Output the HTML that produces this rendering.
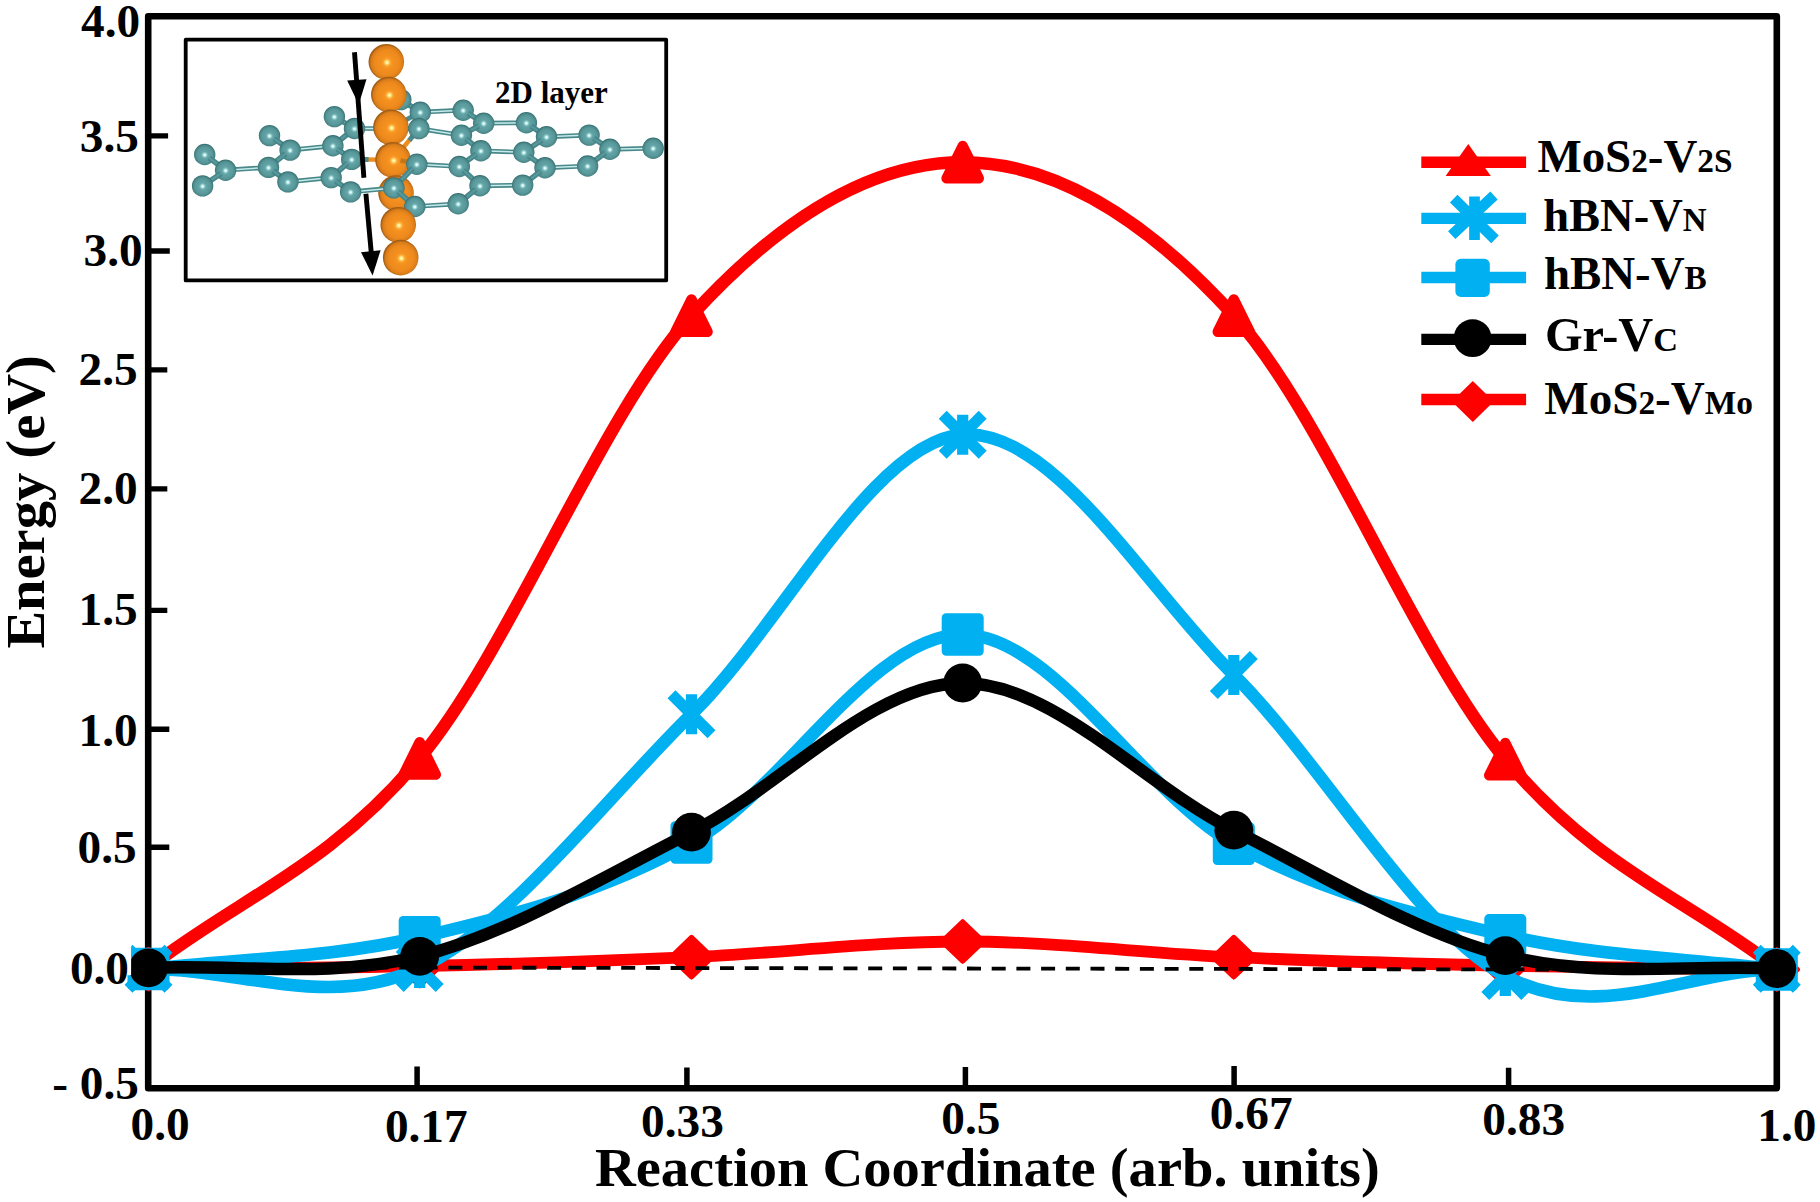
<!DOCTYPE html>
<html lang="en"><head><meta charset="utf-8"><title>Energy vs Reaction Coordinate</title>
<style>html,body{margin:0;padding:0;background:#fff}svg{display:block}text{font-family:'Liberation Serif', 'Times New Roman', serif;font-weight:bold;fill:#000}</style></head><body>
<svg width="1820" height="1202" viewBox="0 0 1820 1202">
<rect width="1820" height="1202" fill="#fff"/>
<defs>
<radialGradient id="gT" cx="0.5" cy="0.52" r="0.5" fx="0.5" fy="0.52"><stop offset="0" stop-color="#f4ffff"/><stop offset="0.09" stop-color="#d4f6f6"/><stop offset="0.22" stop-color="#82c0c1"/><stop offset="0.34" stop-color="#62a3a5"/><stop offset="0.7" stop-color="#5a999b"/><stop offset="0.9" stop-color="#498789"/><stop offset="1" stop-color="#366f71"/></radialGradient>
<radialGradient id="gO" cx="0.52" cy="0.52" r="0.5" fx="0.52" fy="0.52"><stop offset="0" stop-color="#ffffd0"/><stop offset="0.07" stop-color="#ffee90"/><stop offset="0.2" stop-color="#fba22c"/><stop offset="0.32" stop-color="#f4911f"/><stop offset="0.7" stop-color="#ee8a1d"/><stop offset="0.9" stop-color="#d87c1a"/><stop offset="1" stop-color="#a45e14"/></radialGradient>
</defs>
<rect x="148.2" y="16.2" width="1628.6" height="1072.1" fill="none" stroke="#000" stroke-width="6.6" stroke-linejoin="round"/>
<clipPath id="cl"><path d="M131.2 0 H1820 V1202 H0 V975.3 H131.2 Z"/></clipPath>
<g clip-path="url(#cl)">
<path d="M148.5 968C238.9 898.1 329.2 867 419.7 758.3C510.2 649.6 601 414.9 691.5 315.6C782 216.3 872.3 162.2 962.7 162.2C1053.1 162.2 1143.4 216.1 1233.8 315.6C1324.2 415.1 1414.8 650.5 1505.3 759.2C1595.8 867.9 1686.3 898.4 1776.8 968" fill="none" stroke="#fe0000" stroke-width="12.6" stroke-linecap="round" stroke-linejoin="round"/>
<path d="M419.7 742.1 L435.8 774.5 L403.6 774.5 Z" fill="#fe0000" stroke="#fe0000" stroke-width="10.4" stroke-linejoin="round"/>
<path d="M691.5 299.4 L707.6 331.8 L675.4 331.8 Z" fill="#fe0000" stroke="#fe0000" stroke-width="10.4" stroke-linejoin="round"/>
<path d="M962.7 146 L978.8 178.4 L946.6 178.4 Z" fill="#fe0000" stroke="#fe0000" stroke-width="10.4" stroke-linejoin="round"/>
<path d="M1233.8 299.4 L1249.9 331.8 L1217.7 331.8 Z" fill="#fe0000" stroke="#fe0000" stroke-width="10.4" stroke-linejoin="round"/>
<path d="M1505.3 743 L1521.4 775.4 L1489.2 775.4 Z" fill="#fe0000" stroke="#fe0000" stroke-width="10.4" stroke-linejoin="round"/>
<path d="M148.5 969.1C238.9 968.1 329.2 968 419.7 966C510.2 964 601 961.3 691.5 957.2C782 953.1 872.3 941.5 962.7 941.5C1053.1 941.5 1143.4 953.2 1233.8 957.2C1324.2 961.2 1414.8 963.8 1505.3 965.8C1595.8 967.8 1686.3 968.3 1776.8 969.5" fill="none" stroke="#fe0000" stroke-width="11.8" stroke-linecap="round"/>
<path d="M148.5 949.3 L169.2 969.1 L148.5 988.9 L127.8 969.1 Z" fill="#fe0000" stroke="#fe0000" stroke-width="5" stroke-linejoin="round"/>
<path d="M419.7 946.2 L440.4 966 L419.7 985.8 L399 966 Z" fill="#fe0000" stroke="#fe0000" stroke-width="5" stroke-linejoin="round"/>
<path d="M691.5 937.4 L712.2 957.2 L691.5 977 L670.8 957.2 Z" fill="#fe0000" stroke="#fe0000" stroke-width="5" stroke-linejoin="round"/>
<path d="M962.7 921.7 L983.4 941.5 L962.7 961.3 L942 941.5 Z" fill="#fe0000" stroke="#fe0000" stroke-width="5" stroke-linejoin="round"/>
<path d="M1233.8 937.4 L1254.5 957.2 L1233.8 977 L1213.1 957.2 Z" fill="#fe0000" stroke="#fe0000" stroke-width="5" stroke-linejoin="round"/>
<path d="M1505.3 946 L1526 965.8 L1505.3 985.6 L1484.6 965.8 Z" fill="#fe0000" stroke="#fe0000" stroke-width="5" stroke-linejoin="round"/>
<path d="M1776.8 949.7 L1797.5 969.5 L1776.8 989.3 L1756.1 969.5 Z" fill="#fe0000" stroke="#fe0000" stroke-width="5" stroke-linejoin="round"/>
<path d="M148.5 968.8C238.9 968.5 329.2 1010.4 419.7 968C510.2 925.6 601 803.2 691.5 714.3C782 625.4 872.3 441.2 962.7 434.7C1053.1 428.1 1143.4 584.8 1233.8 675C1324.2 765.2 1414.8 927 1505.3 976C1595.8 1025 1686.3 971.2 1776.8 968.8" fill="none" stroke="#00b0f0" stroke-width="12.7" stroke-linecap="round"/>
<path d="M148.5 948.8 V988.8 M128.5 948.8 L168.5 988.8 M168.5 948.8 L128.5 988.8" fill="none" stroke="#00b0f0" stroke-width="11.2"/>
<path d="M419.7 948 V988 M399.7 948 L439.7 988 M439.7 948 L399.7 988" fill="none" stroke="#00b0f0" stroke-width="11.2"/>
<path d="M691.5 694.3 V734.3 M671.5 694.3 L711.5 734.3 M711.5 694.3 L671.5 734.3" fill="none" stroke="#00b0f0" stroke-width="11.2"/>
<path d="M962.7 414.7 V454.7 M942.7 414.7 L982.7 454.7 M982.7 414.7 L942.7 454.7" fill="none" stroke="#00b0f0" stroke-width="11.2"/>
<path d="M1233.8 655 V695 M1213.8 655 L1253.8 695 M1253.8 655 L1213.8 695" fill="none" stroke="#00b0f0" stroke-width="11.2"/>
<path d="M1505.3 956 V996 M1485.3 956 L1525.3 996 M1525.3 956 L1485.3 996" fill="none" stroke="#00b0f0" stroke-width="11.2"/>
<path d="M1776.8 948.8 V988.8 M1756.8 948.8 L1796.8 988.8 M1796.8 948.8 L1756.8 988.8" fill="none" stroke="#00b0f0" stroke-width="11.2"/>
<path d="M148.5 969C238.9 958.4 329.2 958.4 419.7 937.3C510.2 916.2 601 893 691.5 842.5C782 792 872.3 634.3 962.7 634.5C1053.1 634.7 1143.4 793.6 1233.8 843.7C1324.2 893.9 1414.8 914.4 1505.3 935.4C1595.8 956.4 1686.3 958.1 1776.8 969.5" fill="none" stroke="#00b0f0" stroke-width="12.7" stroke-linecap="round"/>
<rect x="127.5" y="947.7" width="42" height="42.6" rx="4.5" fill="#00b0f0"/>
<rect x="398.7" y="916" width="42" height="42.6" rx="4.5" fill="#00b0f0"/>
<rect x="670.5" y="821.2" width="42" height="42.6" rx="4.5" fill="#00b0f0"/>
<rect x="941.7" y="613.2" width="42" height="42.6" rx="4.5" fill="#00b0f0"/>
<rect x="1212.8" y="822.4" width="42" height="42.6" rx="4.5" fill="#00b0f0"/>
<rect x="1484.3" y="914.1" width="42" height="42.6" rx="4.5" fill="#00b0f0"/>
<rect x="1755.8" y="948.2" width="42" height="42.6" rx="4.5" fill="#00b0f0"/>
<path d="M151.9 967.1 L1776 969.9" fill="none" stroke="#000" stroke-width="3.8" stroke-dasharray="14 10.7"/>
<path d="M148.5 967.8C238.9 964 329.2 978.9 419.7 956.3C510.2 933.7 601 877.8 691.5 832.2C782 786.7 872.3 683.3 962.7 683C1053.1 682.7 1143.4 784.8 1233.8 830.2C1324.2 875.7 1414.8 932.7 1505.3 955.7C1595.8 978.8 1686.3 964.2 1776.8 968.5" fill="none" stroke="#000" stroke-width="12.4" stroke-linecap="round"/>
<circle cx="148.5" cy="967.8" r="19.4" fill="#000"/>
<circle cx="419.7" cy="956.3" r="19.4" fill="#000"/>
<circle cx="691.5" cy="832.2" r="19.4" fill="#000"/>
<circle cx="962.7" cy="683" r="19.4" fill="#000"/>
<circle cx="1233.8" cy="830.2" r="19.4" fill="#000"/>
<circle cx="1505.3" cy="955.7" r="19.4" fill="#000"/>
<circle cx="1776.8" cy="968.5" r="19.4" fill="#000"/>
</g>
<path d="M148.2 135.9 H168.1M148.2 251 H169.8M148.2 369.9 H167.3M148.2 488.9 H167.3M148.2 610.4 H167.3M148.2 729.2 H169.3M148.2 847.2 H169.3" stroke="#000" stroke-width="5.4" fill="none"/>
<path d="M417.1 1088.3 V1066.4M686.9 1088.3 V1067.6M965.4 1088.3 V1066.9M1234.1 1088.3 V1065.9M1508.6 1088.3 V1067.8" stroke="#000" stroke-width="5.5" fill="none"/>
<g font-size="47.3">
<text x="81" y="37">4.0</text>
<text x="79.8" y="151.6">3.5</text>
<text x="83.5" y="266.2">3.0</text>
<text x="78.5" y="384.9">2.5</text>
<text x="78.5" y="504.2">2.0</text>
<text x="78.5" y="625">1.5</text>
<text x="78.5" y="746">1.0</text>
<text x="77.5" y="863.4">0.5</text>
<text x="69.9" y="984.2">0.0</text>
<text x="52.3" y="1098.5">- 0.5</text>
<text x="130.5" y="1140">0.0</text>
<text x="384.9" y="1141.8">0.17</text>
<text x="641.1" y="1136.5">0.33</text>
<text x="941.3" y="1133.5">0.5</text>
<text x="1209.8" y="1128.6">0.67</text>
<text x="1482.3" y="1134.9">0.83</text>
<text x="1757.3" y="1141.1">1.0</text>
</g>
<text x="594.9" y="1186.3" font-size="54" textLength="785" lengthAdjust="spacingAndGlyphs">Reaction Coordinate (arb. units)</text>
<text transform="translate(43.8 648.6) rotate(-90)" font-size="54.5" textLength="293.5" lengthAdjust="spacingAndGlyphs">Energy (eV)</text>
<g stroke-width="11.4" fill="none">
<path d="M1421.3 162.3 H1526.1" stroke="#fe0000"/>
<path d="M1421.3 218.4 H1526.1" stroke="#00b0f0"/>
<path d="M1421.3 277.5 H1526.1" stroke="#00b0f0"/>
<path d="M1421.3 339.4 H1526.1" stroke="#000"/>
<path d="M1421.3 399.5 H1526.1" stroke="#fe0000"/>
</g>
<path d="M1468.3 143.9 L1490.8 176 L1445.6 176 Z" fill="#fe0000"/>
<path d="M1474.5 196.4 V239.9 M1453.7 198.6 L1495 239.4 M1494 195.5 L1451.7 235.2" fill="none" stroke="#00b0f0" stroke-width="10.7"/>
<rect x="1455.4" y="258.8" width="34.4" height="38.1" rx="5.5" fill="#00b0f0"/>
<circle cx="1472.6" cy="338.2" r="18.9" fill="#000"/>
<path d="M1472.8 380.9 L1493.8 401.4 L1472.8 421.9 L1451.8 401.4 Z" fill="#fe0000"/>
<text x="1537.4" y="172.4" font-size="46.9">MoS<tspan font-size="33.3">2</tspan>-V<tspan font-size="33.3">2S</tspan></text>
<text x="1543.2" y="230.8" font-size="46.5">hBN-V<tspan font-size="33">N</tspan></text>
<text x="1543.9" y="288.5" font-size="46.9">hBN-V<tspan font-size="33.3">B</tspan></text>
<text x="1544.9" y="350.6" font-size="48.4">Gr-V<tspan font-size="34.4">C</tspan></text>
<text x="1544.2" y="413.6" font-size="47.1">MoS<tspan font-size="33.4">2</tspan>-V<tspan font-size="33.4">Mo</tspan></text>
<rect x="185.7" y="39.65" width="480.5" height="240.75" fill="#fff" stroke="#000" stroke-width="3.8" stroke-linejoin="round"/>
<g>
<path d="M354.5 128.5L418.9 128.6" stroke="#4a8789" stroke-width="4.7" fill="none"/>
<path d="M354.5 128.5L418.9 128.6" stroke="#c4ecec" stroke-width="1.5" fill="none"/>
<path d="M405.5 102.6L420.3 112.2M339.2 119.5L354.5 128.5M350.1 132L332.9 145.8" stroke="#47868a" stroke-width="5.5" fill="none"/>
<path d="M405.5 102.6L420.3 112.2M339.2 119.5L354.5 128.5M350.1 132L332.9 145.8" stroke="#589a9c" stroke-width="2" fill="none"/>
<path d="M420.3 112.2 L403 121.5" stroke="#4b898b" stroke-width="4.8" fill="none"/>
<circle cx="400.8" cy="99.6" r="10.7" fill="url(#gT)"/>
<circle cx="334.4" cy="116.6" r="10.7" fill="url(#gT)"/>
<circle cx="354.5" cy="128.5" r="10.7" fill="url(#gT)"/>
<path d="M351.9 159.3 L393 159.9" stroke="#ee8c1e" stroke-width="4.4" fill="none"/>
<path d="M351.9 159.3 L368.5 159.5" stroke="#4a8789" stroke-width="4.8" fill="none"/>
<path d="M418.9 128.6 L393 159.9" stroke="#ee8c1e" stroke-width="4.6" fill="none"/>
<path d="M418.9 128.6 L409.3 140.4" stroke="#4b898b" stroke-width="4.8" fill="none"/>
<circle cx="386.3" cy="61.8" r="17.8" fill="url(#gO)"/>
<circle cx="388.8" cy="94.5" r="17.8" fill="url(#gO)"/>
<circle cx="390.9" cy="127.3" r="17.8" fill="url(#gO)"/>
<circle cx="393" cy="159.9" r="17.8" fill="url(#gO)"/>
<circle cx="396" cy="193" r="17.8" fill="url(#gO)"/>
<path d="M416.7 163.8 L400.5 160.6" stroke="#c2761c" stroke-width="4.6" fill="none"/>
<path d="M225.6 170.2L268.5 167.4M290.1 150.1L332.9 145.8M287.9 181.9L331.2 177.6M350.6 191.9L393.9 187.9M414.8 206.5L458.2 203.8M416.8 164.2L459.3 166.5M418.9 128.6L461.4 135.2M420.3 112.2L463.2 110.2M483.7 123.2L526.4 122.8M480.9 150.8L523.8 152.3M480 185.8L522.7 185.1M545 167.8L587.6 166M546.5 136.8L589.1 135.1M609.9 149.3L653.2 148.2" stroke="#4a8789" stroke-width="4.7" fill="none"/>
<path d="M225.6 170.2L268.5 167.4M290.1 150.1L332.9 145.8M287.9 181.9L331.2 177.6M350.6 191.9L393.9 187.9M414.8 206.5L458.2 203.8M416.8 164.2L459.3 166.5M418.9 128.6L461.4 135.2M420.3 112.2L463.2 110.2M483.7 123.2L526.4 122.8M480.9 150.8L523.8 152.3M480 185.8L522.7 185.1M545 167.8L587.6 166M546.5 136.8L589.1 135.1M609.9 149.3L653.2 148.2" stroke="#c4ecec" stroke-width="1.5" fill="none"/>
<circle cx="463.2" cy="110.2" r="10.7" fill="url(#gT)"/>
<circle cx="420.3" cy="112.2" r="10.7" fill="url(#gT)"/>
<circle cx="526.4" cy="122.8" r="10.7" fill="url(#gT)"/>
<path d="M467.9 113.1L483.7 123.2" stroke="#47868a" stroke-width="5.5" fill="none"/>
<path d="M467.9 113.1L483.7 123.2" stroke="#589a9c" stroke-width="2" fill="none"/>
<circle cx="483.7" cy="123.2" r="10.7" fill="url(#gT)"/>
<path d="M419.8 117.8L418.9 128.6" stroke="#47868a" stroke-width="5.5" fill="none"/>
<path d="M419.8 117.8L418.9 128.6" stroke="#589a9c" stroke-width="2" fill="none"/>
<circle cx="418.9" cy="128.6" r="10.7" fill="url(#gT)"/>
<circle cx="589.1" cy="135.1" r="10.7" fill="url(#gT)"/>
<path d="M478.8 125.8L461.4 135.2" stroke="#47868a" stroke-width="5.5" fill="none"/>
<path d="M478.8 125.8L461.4 135.2" stroke="#589a9c" stroke-width="2" fill="none"/>
<circle cx="461.4" cy="135.2" r="10.7" fill="url(#gT)"/>
<circle cx="269.5" cy="135.6" r="10.7" fill="url(#gT)"/>
<path d="M531 126L546.5 136.8" stroke="#47868a" stroke-width="5.5" fill="none"/>
<path d="M531 126L546.5 136.8" stroke="#589a9c" stroke-width="2" fill="none"/>
<circle cx="546.5" cy="136.8" r="10.7" fill="url(#gT)"/>
<circle cx="332.9" cy="145.8" r="10.7" fill="url(#gT)"/>
<circle cx="653.2" cy="148.2" r="10.7" fill="url(#gT)"/>
<path d="M593.7 138.2L609.9 149.3" stroke="#47868a" stroke-width="5.5" fill="none"/>
<path d="M593.7 138.2L609.9 149.3" stroke="#589a9c" stroke-width="2" fill="none"/>
<circle cx="609.9" cy="149.3" r="10.7" fill="url(#gT)"/>
<path d="M274.1 138.8L290.1 150.1" stroke="#47868a" stroke-width="5.5" fill="none"/>
<path d="M274.1 138.8L290.1 150.1" stroke="#589a9c" stroke-width="2" fill="none"/>
<circle cx="290.1" cy="150.1" r="10.7" fill="url(#gT)"/>
<path d="M465.8 138.7L480.9 150.8" stroke="#47868a" stroke-width="5.5" fill="none"/>
<path d="M465.8 138.7L480.9 150.8" stroke="#589a9c" stroke-width="2" fill="none"/>
<circle cx="480.9" cy="150.8" r="10.7" fill="url(#gT)"/>
<path d="M541.9 139.9L523.8 152.3" stroke="#47868a" stroke-width="5.5" fill="none"/>
<path d="M541.9 139.9L523.8 152.3" stroke="#589a9c" stroke-width="2" fill="none"/>
<circle cx="523.8" cy="152.3" r="10.7" fill="url(#gT)"/>
<circle cx="204.7" cy="154.5" r="10.7" fill="url(#gT)"/>
<path d="M337.4 149.1L351.7 159.4" stroke="#47868a" stroke-width="5.5" fill="none"/>
<path d="M337.4 149.1L351.7 159.4" stroke="#589a9c" stroke-width="2" fill="none"/>
<circle cx="351.7" cy="159.4" r="10.7" fill="url(#gT)"/>
<circle cx="416.8" cy="164.2" r="10.7" fill="url(#gT)"/>
<path d="M605.4 152.7L587.6 166" stroke="#47868a" stroke-width="5.5" fill="none"/>
<path d="M605.4 152.7L587.6 166" stroke="#589a9c" stroke-width="2" fill="none"/>
<circle cx="587.6" cy="166" r="10.7" fill="url(#gT)"/>
<path d="M476.4 154.1L459.3 166.5" stroke="#47868a" stroke-width="5.5" fill="none"/>
<path d="M476.4 154.1L459.3 166.5" stroke="#589a9c" stroke-width="2" fill="none"/>
<circle cx="459.3" cy="166.5" r="10.7" fill="url(#gT)"/>
<path d="M285.7 153.6L268.5 167.4" stroke="#47868a" stroke-width="5.5" fill="none"/>
<path d="M285.7 153.6L268.5 167.4" stroke="#589a9c" stroke-width="2" fill="none"/>
<circle cx="268.5" cy="167.4" r="10.7" fill="url(#gT)"/>
<path d="M528.3 155.6L545 167.8" stroke="#47868a" stroke-width="5.5" fill="none"/>
<path d="M528.3 155.6L545 167.8" stroke="#589a9c" stroke-width="2" fill="none"/>
<circle cx="545" cy="167.8" r="10.7" fill="url(#gT)"/>
<path d="M209.2 157.9L225.6 170.2" stroke="#47868a" stroke-width="5.5" fill="none"/>
<path d="M209.2 157.9L225.6 170.2" stroke="#589a9c" stroke-width="2" fill="none"/>
<circle cx="225.6" cy="170.2" r="10.7" fill="url(#gT)"/>
<path d="M347.5 163.1L331.2 177.6" stroke="#47868a" stroke-width="5.5" fill="none"/>
<path d="M347.5 163.1L331.2 177.6" stroke="#589a9c" stroke-width="2" fill="none"/>
<circle cx="331.2" cy="177.6" r="10.7" fill="url(#gT)"/>
<path d="M273 170.8L287.9 181.9" stroke="#47868a" stroke-width="5.5" fill="none"/>
<path d="M273 170.8L287.9 181.9" stroke="#589a9c" stroke-width="2" fill="none"/>
<circle cx="287.9" cy="181.9" r="10.7" fill="url(#gT)"/>
<path d="M540.6 171.2L522.7 185.1" stroke="#47868a" stroke-width="5.5" fill="none"/>
<path d="M540.6 171.2L522.7 185.1" stroke="#589a9c" stroke-width="2" fill="none"/>
<circle cx="522.7" cy="185.1" r="10.7" fill="url(#gT)"/>
<path d="M463.4 170.3L480 185.8" stroke="#47868a" stroke-width="5.5" fill="none"/>
<path d="M463.4 170.3L480 185.8" stroke="#589a9c" stroke-width="2" fill="none"/>
<circle cx="480" cy="185.8" r="10.7" fill="url(#gT)"/>
<path d="M221 173.4L202.6 185.9" stroke="#47868a" stroke-width="5.5" fill="none"/>
<path d="M221 173.4L202.6 185.9" stroke="#589a9c" stroke-width="2" fill="none"/>
<circle cx="202.6" cy="185.9" r="10.7" fill="url(#gT)"/>
<path d="M412.9 168.2L393.9 187.9" stroke="#47868a" stroke-width="5.5" fill="none"/>
<path d="M412.9 168.2L393.9 187.9" stroke="#589a9c" stroke-width="2" fill="none"/>
<circle cx="393.9" cy="187.9" r="10.7" fill="url(#gT)"/>
<path d="M335.7 180.9L350.6 191.9" stroke="#47868a" stroke-width="5.5" fill="none"/>
<path d="M335.7 180.9L350.6 191.9" stroke="#589a9c" stroke-width="2" fill="none"/>
<circle cx="350.6" cy="191.9" r="10.7" fill="url(#gT)"/>
<path d="M475.7 189.4L458.2 203.8" stroke="#47868a" stroke-width="5.5" fill="none"/>
<path d="M475.7 189.4L458.2 203.8" stroke="#589a9c" stroke-width="2" fill="none"/>
<circle cx="458.2" cy="203.8" r="10.7" fill="url(#gT)"/>
<path d="M398.1 191.6L414.8 206.5" stroke="#47868a" stroke-width="5.5" fill="none"/>
<path d="M398.1 191.6L414.8 206.5" stroke="#589a9c" stroke-width="2" fill="none"/>
<circle cx="414.8" cy="206.5" r="10.7" fill="url(#gT)"/>
<circle cx="398.2" cy="224.8" r="17.8" fill="url(#gO)"/>
<circle cx="400.7" cy="257.6" r="17.8" fill="url(#gO)"/>
<path d="M354.5 52.2 L363.9 177.7" stroke="#000" stroke-width="4.9" fill="none"/>
<path d="M347.2 80.6 L366.5 79.3 L358.7 104.4 Z" fill="#000"/>
<path d="M365.9 193.8 L371.3 253" stroke="#000" stroke-width="4.9" fill="none"/>
<path d="M361 252.3 L380.6 250.2 L372.6 275.4 Z" fill="#000"/>
</g>
<text x="495" y="102.9" font-size="31">2D layer</text>
</svg></body></html>
